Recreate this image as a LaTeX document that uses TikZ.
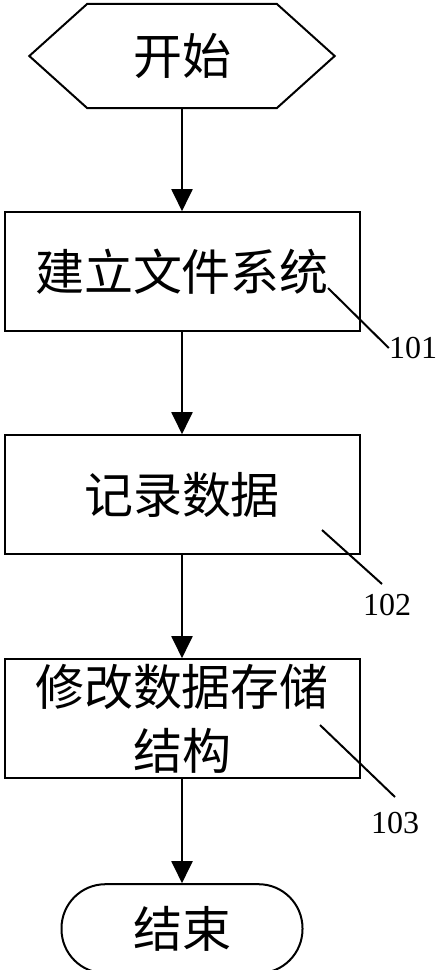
\documentclass[tikz,border=0pt]{standalone}
\usepackage{fontspec}
\setmainfont{Liberation Serif}
\newfontfamily\cjk{Noto Sans CJK SC}
\usetikzlibrary{positioning, arrows.meta}

\begin{document}
\begin{tikzpicture}[
    x=1pt, y=-1pt,
    every node/.style={inner sep=0pt},
    stepbox/.style={
        draw,
        line width=2pt,
        align=center,
        minimum width=355pt,
        minimum height=119pt,
        font=\cjk\fontsize{49}{64}\selectfont
    },
    endbox/.style={
        draw,
        line width=2pt,
        rounded corners=44pt,
        minimum width=241pt,
        minimum height=89pt,
        font=\cjk\fontsize{49}{64}\selectfont
    },
    tag/.style={font=\fontsize{32}{32}\selectfont},
    arrow/.style={-{Triangle[length=22pt, width=21pt]}, line width=2pt},
    leader/.style={line width=2pt}
]
\useasboundingbox (0,0) rectangle (439,970);

% Start
\node[minimum width=305pt, minimum height=104pt,
      font=\cjk\fontsize{49}{64}\selectfont] (start) at (182,56) {开始};
\draw[line width=2pt] (start.west) -- ([xshift=58pt]start.north west)
    -- ([xshift=-58pt]start.north east) -- (start.east)
    -- ([xshift=-58pt]start.south east) -- ([xshift=58pt]start.south west) -- cycle;

% Steps
\node[stepbox, below=103pt of start] (build) {建立文件系统};
\node[stepbox, below=102pt of build] (record) {记录数据};
\node[stepbox, below=103pt of record] (modify) {修改数据存储\\结构};

% End
\node[endbox, below=104pt of modify] (stop) {结束};

% Arrows
\draw[arrow] (start.south) -- (build.north);
\draw[arrow] (build) -- (record);
\draw[arrow] (record) -- (modify);
\draw[arrow] (modify) -- (stop);

% Reference numerals
\node[tag] (n101) at (413,348) {101};
\node[tag] (n102) at (387,605) {102};
\node[tag] (n103) at (395,823) {103};
\coordinate (p101) at (328,288);
\coordinate (p102) at (322,530);
\coordinate (p103) at (320,725);
\draw[leader] (p101) -- (n101.west);
\draw[leader] (p102) -- ([shift={(-5,-10)}]n102.north);
\draw[leader] (p103) -- ([yshift=15pt]n103.north);

\end{tikzpicture}
\end{document}
